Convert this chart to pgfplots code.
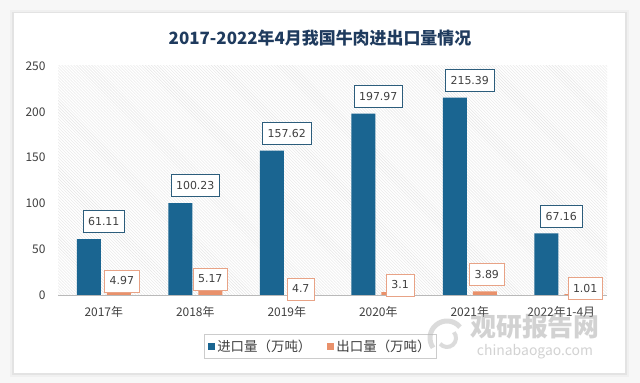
\documentclass[border=0pt]{standalone}
\usepackage{pgfplots}
\pgfplotsset{compat=1.18}
\usepackage{pgfplotstable}
\usepackage{fontspec}
\setmainfont{Noto Sans CJK SC}
\newfontfamily\dv{DejaVu Sans}
\usetikzlibrary{patterns}
\definecolor{imp}{HTML}{1A6591}
\definecolor{expc}{HTML}{E9916B}
\definecolor{impb}{HTML}{2C5D7C}
\definecolor{expb}{HTML}{E8A386}
\definecolor{lbl}{HTML}{404040}
\definecolor{titlec}{HTML}{1F3B5E}

\pgfplotstableread{
x imp exp
0 61.11 4.97
1 100.23 5.17
2 157.62 4.70
3 197.97 3.10
4 215.39 3.89
5 67.16 1.01
}\data

% positions of the export value boxes (data units) and their texts
\pgfplotstableread{
lx ly lab
0.197 15.34 4.97
1.164 17.51 5.17
2.153 6.56 4.7
3.240 10.96 3.1
4.186 22.89 3.89
5.262 7.56 1.01
}\explab

\begin{document}
\begin{tikzpicture}
\useasboundingbox (0bp,0bp) rectangle (640bp,383bp);
\fill[gray!6] (0bp,0bp) rectangle (640bp,383bp);
\fill[gray!12] (10bp,6bp) rectangle (629bp,373bp);
\fill[gray!22] (12bp,8bp) rectangle (627bp,371bp);
\fill[white] (14bp,10bp) rectangle (625bp,370bp);

\node[font=\bfseries\fontsize{17}{20}\selectfont, text=titlec] at (320bp,345bp) {2017-2022年4月我国牛肉进出口量情况};

\begin{axis}[
  at={(58bp,88bp)}, anchor=south west,
  scale only axis, width=549bp, height=229bp,
  xmin=-0.5, xmax=5.5, ymin=0, ymax=250,
  enlarge y limits=false,
  clip=false,
  axis background/.style={pattern=north west lines, pattern color=black!10},
  axis x line*=bottom, axis y line*=left,
  x axis line style={draw=gray!55, line width=0.8bp},
  y axis line style={draw=none},
  xtick={0,1,2,3,4,5},
  xticklabels={2017年,2018年,2019年,2020年,2021年,2022年1-4月},
  ytick={0,50,100,150,200,250},
  major tick length=0pt,
  tick style={draw=none},
  /pgf/number format/assume math mode=true,
  ticklabel style={font=\fontsize{12}{14}\selectfont, text=lbl},
  yticklabel style={xshift=-9bp},
  xticklabel style={yshift=-8bp},
  legend style={at={(axis description cs:0.478,-0.226)}, anchor=center,
    draw=gray!40, line width=0.6bp, legend columns=2,
    font=\fontsize{13.5}{16}\selectfont, text=lbl,
    inner xsep=4bp, inner ysep=3.5bp,
    /tikz/every even column/.append style={column sep=14bp}},
]
\addplot[ybar, bar width=24bp, bar shift=-15bp, fill=imp, draw=none,
  legend image code/.code={\fill[imp] (0bp,-3.5bp) rectangle (7bp,3.5bp);},
  nodes near coords,
  nodes near coords style={font=\dv\fontsize{11}{13}\selectfont, text=lbl,
    draw=impb, line width=0.8bp, fill=white, inner xsep=5bp, inner ysep=3bp,
    minimum height=22bp, anchor=south, yshift=6bp,
    /pgf/number format/assume math mode=true}]
  table[x=x, y=imp]{\data};
\addlegendentry{进口量（万吨）}
\addplot[ybar, bar width=24bp, bar shift=15bp, fill=expc, draw=none,
  legend image code/.code={\fill[expc] (0bp,-3.5bp) rectangle (7bp,3.5bp);}]
  table[x=x, y=exp]{\data};
\addlegendentry{出口量（万吨）}
\addplot[only marks, mark=none, forget plot,
  point meta=explicit symbolic,
  nodes near coords,
  nodes near coords style={font=\dv\fontsize{11}{13}\selectfont, text=lbl,
    draw=expb, line width=0.8bp, fill=white, inner xsep=5bp, inner ysep=3bp,
    minimum height=22bp, anchor=center}]
  table[x=lx, y=ly, meta=lab]{\explab};
\end{axis}

% watermark
\begin{scope}[opacity=0.5]
\draw[gray!55, line width=5bp] (447bp,45bp) ++(40:17bp) arc (40:215:17bp);
\draw[gray!55, line width=4bp] (447bp,45bp) ++(220:9bp) arc (220:400:9bp);
\node[font=\bfseries\fontsize{26}{28}\selectfont, text=gray!70] at (535bp,56bp) {观研报告网};
\node[font=\fontsize{14}{16}\selectfont, text=gray!70] at (535bp,31bp) {chinabaogao.com};
\end{scope}
\end{tikzpicture}
\end{document}
